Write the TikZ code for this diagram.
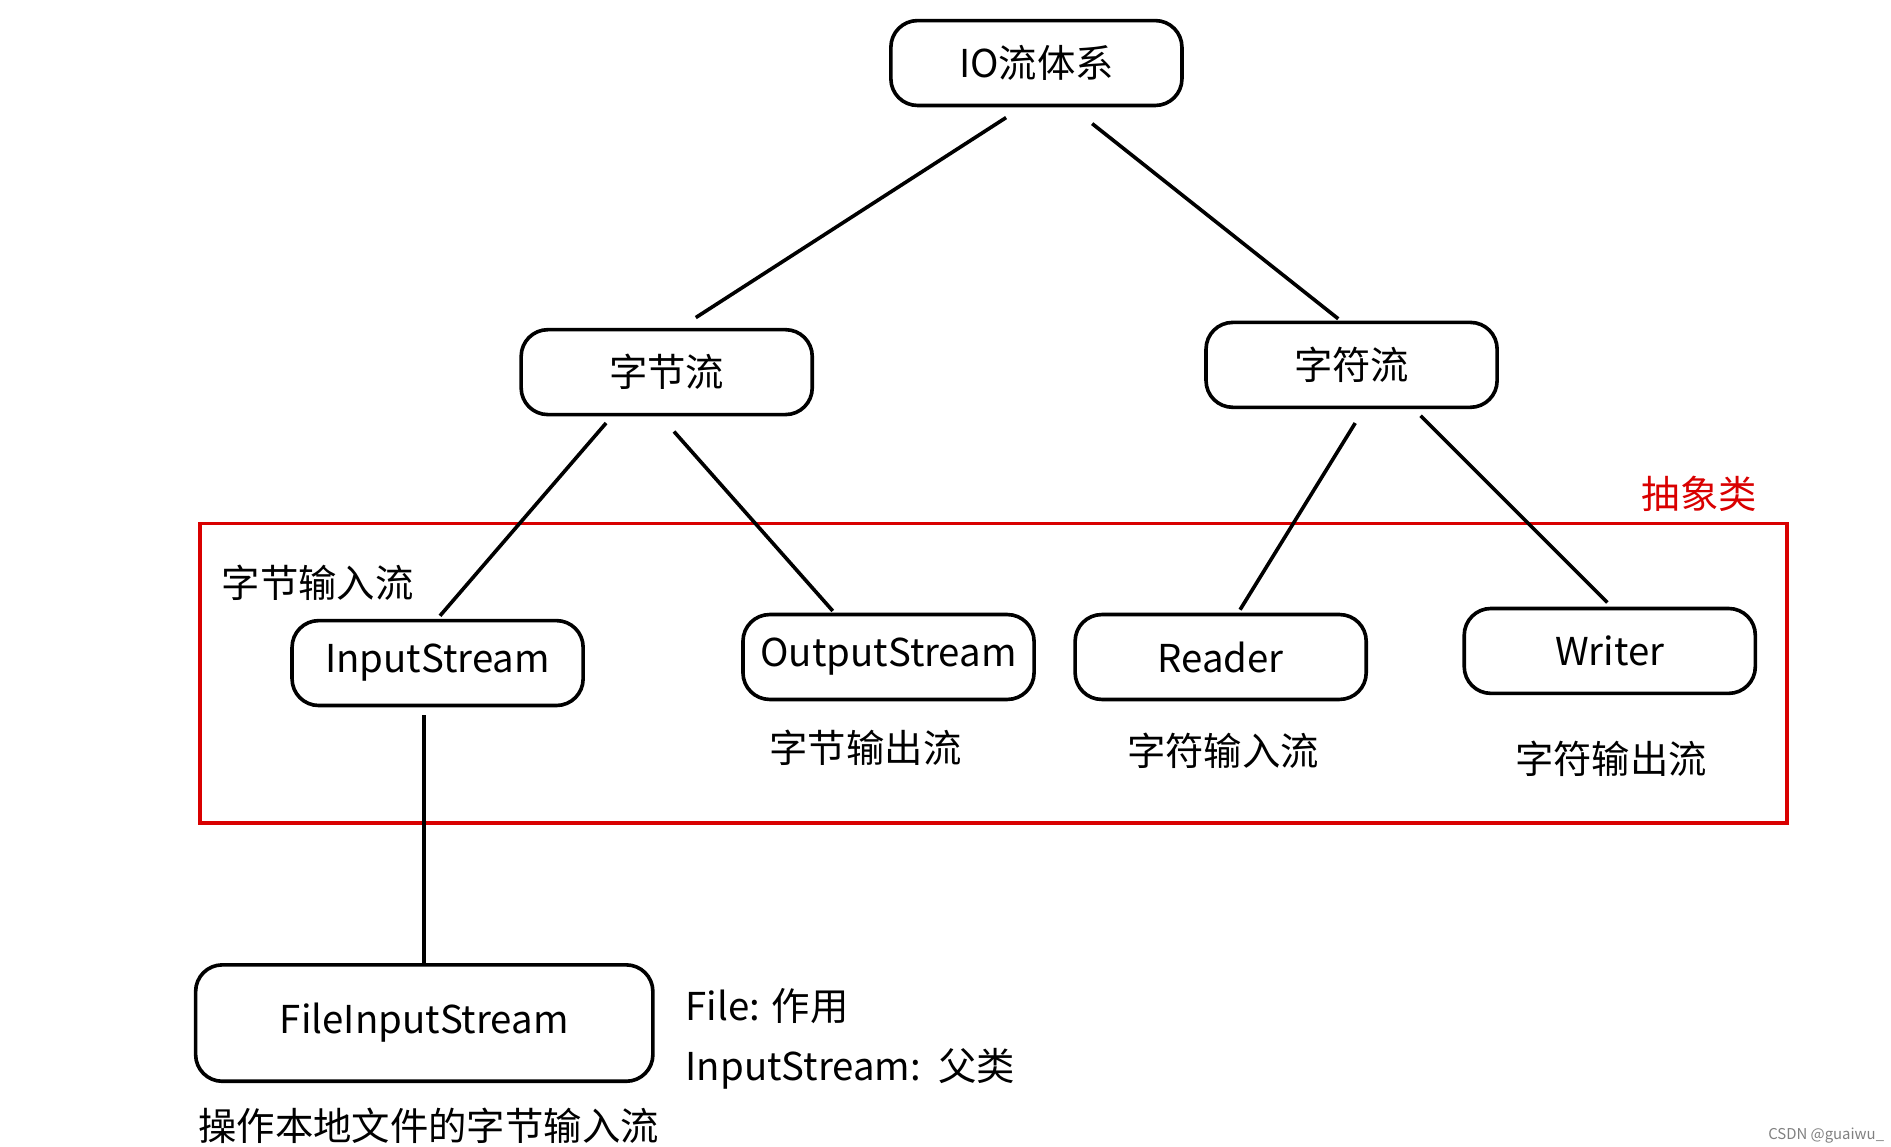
\documentclass[tikz,border=0pt]{standalone}
\usepackage{fontspec}
\setmainfont{Noto Sans CJK SC}
\begin{document}
\begin{tikzpicture}[x=0.01cm,y=-0.01cm,
  box/.style={draw,line width=0.85pt,rounded corners=2.2mm,minimum width=2.4cm,minimum height=0.7cm,font=\fontsize{9}{11}\selectfont},
  lbl/.style={font=\fontsize{9}{11}\selectfont,inner sep=0pt},
  edge/.style={line width=0.85pt}]
\useasboundingbox (0,0) rectangle (1560,946);
\node[box] (io) at (855,52) {IO流体系};
\node[box] (bs) at (550,307) {字节流};
\node[box] (cs) at (1115,301) {字符流};
\node[box] (is) at (361,547) {InputStream};
\node[box] (os) at (733,542) {OutputStream};
\node[box] (rd) at (1007,542) {Reader};
\node[box] (wr) at (1328,537) {Writer};
\node[box,minimum width=3.77cm,minimum height=0.96cm] (fis) at (350,844) {FileInputStream};
\draw[red!85!black,line width=0.85pt] (165,432) rectangle (1474,679);
\node[lbl,text=red!85!black] (abs) at (1402,407) {抽象类};
\node[lbl] at (262,481) {字节输入流};
\node[lbl] at (714,617) {字节输出流};
\node[lbl] at (1009,619) {字符输入流};
\node[lbl] at (1329,626) {字符输出流};
\node[lbl,anchor=west] at (565,830) {File: 作用};
\node[lbl,anchor=west] at (565,882) {InputStream:\ \ 父类};
\node[lbl,anchor=west] at (163,929) {操作本地文件的字节输入流};
\node[lbl,anchor=east,text=gray,font=\fontsize{3.5}{4}\selectfont] at (1555,937) {CSDN @guaiwu\_};
\coordinate (a1) at (830,97); \coordinate (a2) at (574,262);
\coordinate (b1) at (901,102); \coordinate (b2) at (1104,263);
\coordinate (c1) at (500,349); \coordinate (c2) at (363,508);
\coordinate (d1) at (556,356); \coordinate (d2) at (687,504);
\coordinate (e1) at (1118,349); \coordinate (e2) at (1023,503);
\coordinate (f1) at (1172,343); \coordinate (f2) at (1326,497);
\coordinate (g1) at (350,590); \coordinate (g2) at (350,797);
\draw[edge] (a1)--(a2); \draw[edge] (b1)--(b2); \draw[edge] (c1)--(c2);
\draw[edge] (d1)--(d2); \draw[edge] (e1)--(e2); \draw[edge] (f1)--(f2);
\draw[edge] (g1)--(g2);
\end{tikzpicture}
\end{document}
